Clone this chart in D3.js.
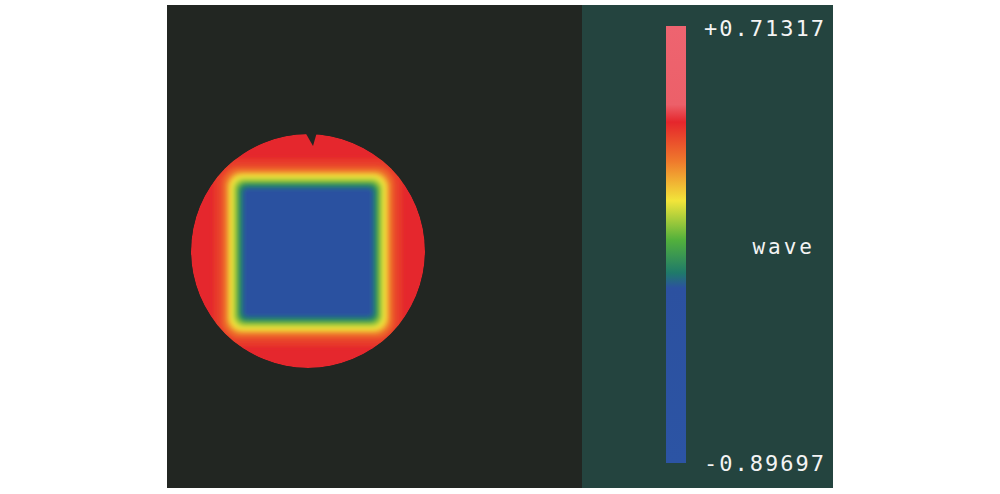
<!DOCTYPE html>
<html><head><meta charset="utf-8">
<script src="https://cdn.jsdelivr.net/npm/d3@7"></script>
<style>body{margin:0;background:#fff}</style>
</head><body>
<svg id="chart" width="1000" height="494"></svg>
<script>
// Échelle de couleur (position depuis le haut de la barre, couleur)
const colorStops = [
    [0.00, '#ee6470'], [0.18, '#ec6069'], [0.22, '#e5262c'], [0.31, '#ef7a2c'],
    [0.40, '#f2e53a'], [0.49, '#52b03c'], [0.565, '#1f7a6a'], [0.60, '#2c51a0'], [1.00, '#2c54a4']
];
const valueMax = 0.71317;
const valueMin = -0.89697;
const tickLabels = ['+0.71317', '-0.89697'];
const fieldName = 'wave';

// Pupille circulaire (coordonnées du champ, 0..415 x 0..483)
const pupil = { cx: 141, cy: 246, r: 117, value: 0.36 };
// Bord du carré (jaune) et niveaux en fonction de la distance vers l'intérieur
const square = { x0: 61, y0: 168, x1: 221, y1: 327 };
const bandInsets = [-14, -6, -1, 2, 5, 8, 11, 15];
const bandValues = [0.32, 0.25, 0.15, 0.07, 0.01, -0.08, -0.19, -0.32];

const svg = d3.select('#chart');
const panel = { left: 167, top: 5, width: 415, height: 483 };

const x = d3.scaleLinear().domain([0, 415]).range([panel.left, panel.left + panel.width]);
const y = d3.scaleLinear().domain([0, 483]).range([panel.top, panel.top + panel.height]);

const color = d3.scaleLinear()
    .domain(colorStops.map(d => valueMax - d[0] * (valueMax - valueMin)))
    .range(colorStops.map(d => d[1]));

// Fonds
svg.append('rect').attr('x', panel.left).attr('y', panel.top)
    .attr('width', panel.width).attr('height', panel.height).attr('fill', '#222622');
svg.append('rect').attr('x', 582).attr('y', 5).attr('width', 251).attr('height', 483).attr('fill', '#24443f');

const defs = svg.append('defs');
defs.append('filter').attr('id', 'blur').append('feGaussianBlur').attr('stdDeviation', 2);
defs.append('clipPath').attr('id', 'pupilClip').append('circle')
    .attr('cx', x(pupil.cx)).attr('cy', y(pupil.cy)).attr('r', x(pupil.r) - x(0));

const field = svg.append('g').attr('clip-path', 'url(#pupilClip)');
field.append('circle')
    .attr('cx', x(pupil.cx)).attr('cy', y(pupil.cy)).attr('r', x(pupil.r) - x(0))
    .attr('fill', color(pupil.value));

const bands = field.append('g').attr('filter', 'url(#blur)');
bandInsets.forEach((d, i) => {
    const w = x(square.x1 - d) - x(square.x0 + d);
    const h = y(square.y1 - d) - y(square.y0 + d);
    bands.append('rect')
        .attr('x', x(square.x0 + d)).attr('y', y(square.y0 + d))
        .attr('width', w).attr('height', h)
        .attr('rx', Math.max(4, 14 - d * 0.6))
        .attr('fill', color(bandValues[i]));
});

// Encoche en haut
svg.append('path')
    .attr('d', `M${x(138)},${y(127)} L${x(146)},${y(141)} L${x(150)},${y(127)} Z`)
    .attr('fill', '#222622');

// Barre de couleur
const barTop = 26, barBottom = 463;
const grad = defs.append('linearGradient').attr('id', 'cbar')
    .attr('x1', 0).attr('y1', 0).attr('x2', 0).attr('y2', 1);
colorStops.forEach(d => grad.append('stop').attr('offset', d[0]).attr('stop-color', d[1]));
svg.append('rect').attr('x', 666).attr('y', barTop).attr('width', 20)
    .attr('height', barBottom - barTop).attr('fill', 'url(#cbar)');

const cy = d3.scaleLinear().domain([valueMax, valueMin]).range([barTop, barBottom]);
[valueMax, valueMin].forEach((v, i) => {
    svg.append('text').attr('x', 826).attr('y', cy(v) + (i === 0 ? 10 : 8))
        .attr('text-anchor', 'end').attr('fill', '#f4f4f4')
        .attr('font-family', 'DejaVu Sans Mono').attr('font-size', 22)
        .attr('letter-spacing', 2).text(tickLabels[i]);
});
svg.append('text').attr('x', 815).attr('y', 254).attr('text-anchor', 'end')
    .attr('fill', '#f4f4f4').attr('font-family', 'DejaVu Sans Mono')
    .attr('font-size', 21).attr('letter-spacing', 3).text(fieldName);
</script>
</body></html>
